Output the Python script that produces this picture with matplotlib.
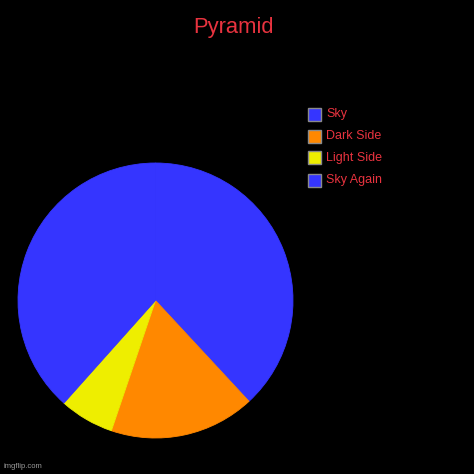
import matplotlib.pyplot as plt
from matplotlib.patches import Rectangle

# data (percent of the circle)
labels = ["Sky", "Dark Side", "Light Side", "Sky Again"]
values = [38.1, 17.1, 6.4, 38.4]
colors = ["#3535ff", "#ff8800", "#eeee00", "#3535ff"]

W = 474
fig = plt.figure(figsize=(4.74, 4.74), dpi=100, facecolor="black")
plt.rcParams['font.family'] = ['Liberation Sans', 'DejaVu Sans']

# pie: centre (155.5, 300.5) px, radius 137.5 px
cx, cy, r = 155.5, 300.5, 137.5
ax = fig.add_axes([(cx - r) / W, 1 - (cy + r) / W, 2 * r / W, 2 * r / W])
ax.set_facecolor("black")
wedges, _ = ax.pie(values, colors=colors, startangle=90, counterclock=False,
                   radius=1, wedgeprops=dict(linewidth=0.6))
# edge in the face colour hides the seam between the two blue slices
for w in wedges:
    w.set_edgecolor(w.get_facecolor())
ax.set_xlim(-1, 1)
ax.set_ylim(-1, 1)
ax.set_aspect("equal")
ax.axis("off")

red = "#e8333f"
fig.text(233.5 / W, 1 - 28 / W, "Pyramid", ha="center", va="center",
         fontsize=15.8, color=red)

# legend drawn by hand to match the layout
for i, (lab, col) in enumerate(zip(labels, colors)):
    y = 114 + 22 * i
    fig.patches.append(Rectangle((308 / W, 1 - (y + 6.5) / W), 13 / W, 13 / W,
                                 transform=fig.transFigure, facecolor=col,
                                 edgecolor="#8a8a8a", linewidth=1))
    fig.text(326 / W, 1 - y / W, lab, ha="left", va="center",
             fontsize=9, color=red)

fig.text(3 / W, 1 - 466 / W, "imgflip.com", ha="left", va="center",
         fontsize=5.5, color="#9a9a9a")

fig.savefig("out.png", dpi=100, facecolor="black")
